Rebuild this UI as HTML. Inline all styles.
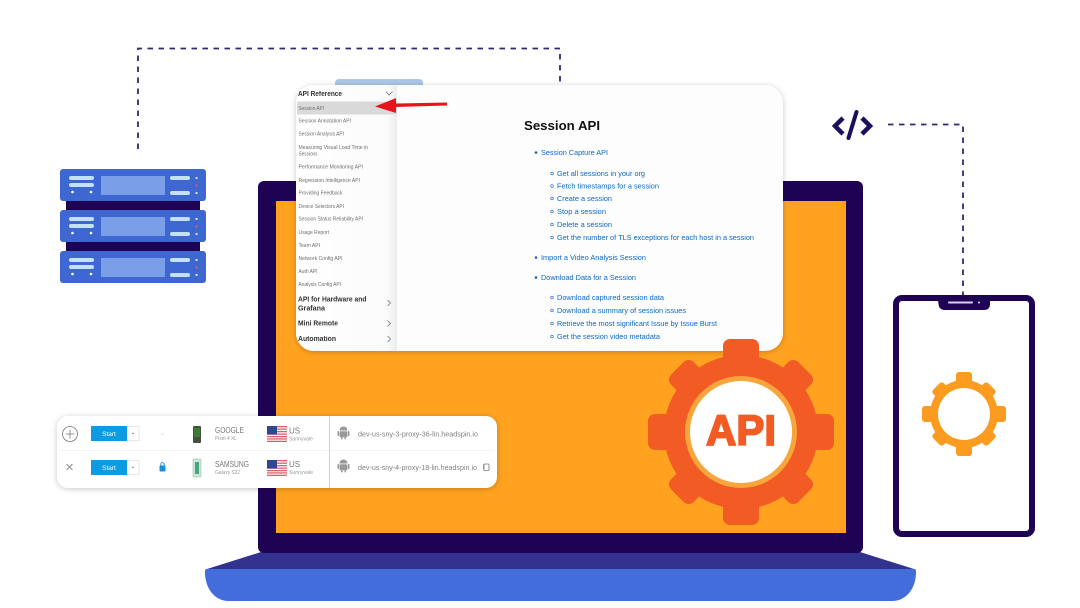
<!DOCTYPE html>
<html><head><meta charset="utf-8"><style>
html,body{margin:0;padding:0;background:#fff;width:1080px;height:608px;overflow:hidden}
svg{display:block}
text{font-family:"Liberation Sans",sans-serif}
.s{font-size:5.2px;fill:#6e6e6e;filter:blur(.25px)}
.h{font-size:7px;font-weight:bold;fill:#333;filter:blur(.2px)}
.l{font-size:7.5px;fill:#0a68c8;filter:blur(.2px)}
.d{filter:blur(.25px)}
</style></head><body>
<svg width="1080" height="608" viewBox="0 0 1080 608" xmlns="http://www.w3.org/2000/svg">
<defs>
<filter id="sh" x="-10%" y="-15%" width="120%" height="130%"><feDropShadow dx="0" dy="1" stdDeviation="3" flood-color="#000" flood-opacity=".22"/></filter>
<linearGradient id="sd" x1="0" x2="1" y1="0" y2="0"><stop offset="0" stop-color="#fff"/><stop offset=".9" stop-color="#fbfbfb"/><stop offset="1" stop-color="#ececec"/></linearGradient>
<g id="srv">
<rect x="60" y="0" width="146" height="32" rx="3" fill="#3f67d2"/>
<rect x="69" y="7" width="25" height="4" rx="2" fill="#c3e2f6"/>
<rect x="69" y="14" width="25" height="4" rx="2" fill="#c3e2f6"/>
<circle cx="72.500" cy="23" r="1.300" fill="#fff"/><circle cx="91" cy="23" r="1.300" fill="#fff"/>
<rect x="101" y="7" width="64" height="19" fill="#7b9ee9"/>
<rect x="170" y="7" width="20" height="4" rx="2" fill="#c3e2f6"/>
<rect x="170" y="22" width="20" height="4" rx="2" fill="#c3e2f6"/>
<circle cx="196.500" cy="9" r="1.100" fill="#d8ecfa"/><circle cx="196.500" cy="16.500" r="1.200" fill="#c0607a"/><circle cx="196.500" cy="24" r="1.100" fill="#d8ecfa"/>
</g>
<g id="flag">
<rect width="20" height="16" fill="#fff"/>
<g fill="#d9606a"><rect y="0" width="20" height="1.300"/><rect y="2.500" width="20" height="1.300"/><rect y="5" width="20" height="1.300"/><rect y="7.500" width="20" height="1.300"/><rect y="10" width="20" height="1.300"/><rect y="12.300" width="20" height="1.300"/><rect y="14.700" width="20" height="1.300"/></g>
<rect width="10" height="8.500" fill="#33478f"/>
</g>
<g id="andr" fill="#9a9a9a">
<path d="M-4 -1.500a4 4 0 0 1 8 0z"/>
<rect x="-4" y="-0.800" width="8" height="6" rx="1"/>
<rect x="-6" y="-1" width="1.500" height="5" rx=".7"/><rect x="4.500" y="-1" width="1.500" height="5" rx=".7"/>
<rect x="-2.500" y="4.500" width="1.500" height="3" rx=".7"/><rect x="1" y="4.500" width="1.500" height="3" rx=".7"/>
</g>
</defs>

<!-- connectors -->
<polyline points="138,149 138,48.500 560,48.500 560,82" fill="none" stroke="#2f2a70" stroke-width="1.800" stroke-dasharray="5.500 5.500"/>
<polyline points="888,124.500 963,124.500 963,295" fill="none" stroke="#2f2a70" stroke-width="1.800" stroke-dasharray="5.500 5.500"/>

<!-- code icon -->
<g fill="none" stroke="#1e0f5c" stroke-width="4.500">
<polyline points="843,118 835,126 843,134"/>
<polyline points="862,118 870,126 862,134"/>
<line x1="856.500" y1="112" x2="848.500" y2="138" stroke-linecap="round" stroke-width="4"/>
</g>

<!-- servers -->
<rect x="66" y="201" width="134" height="9" fill="#1e0355"/>
<rect x="66" y="242" width="134" height="9" fill="#1e0355"/>
<use href="#srv" y="169"/><use href="#srv" y="210"/><use href="#srv" y="251"/>

<!-- laptop -->
<polygon points="261,552 860,552 914,569 207,569" fill="#33338f"/>
<path d="M205 571Q205 569 207 569H914Q916 569 916 571C916.500 586 908 601 892 601H229C213 601 204.500 586 205 571Z" fill="#426ddb"/>
<rect x="258" y="181" width="605" height="372" rx="6" fill="#1e0355"/>
<rect x="276" y="201" width="570" height="332" fill="#ffa21f"/>

<!-- API doc card -->
<rect x="335" y="79" width="88" height="10" rx="4" fill="#abc6e8"/>
<rect x="296" y="85" width="487" height="266" rx="18" fill="#fdfdfd" filter="url(#sh)"/>
<path d="M314 85H397V351H314A18 18 0 0 1 296 333V103A18 18 0 0 1 314 85Z" fill="url(#sd)"/>
<rect x="297" y="101.500" width="100" height="13" fill="#d9d9d9"/>

<text class="h" x="298" y="96" textLength="44" lengthAdjust="spacingAndGlyphs">API Reference</text>
<polyline points="386,91.500 389,95 392.500,91.500" fill="none" stroke="#777" stroke-width=".8"/>
<text class="s" x="298.500" y="110" textLength="25.500" lengthAdjust="spacingAndGlyphs">Session API</text>
<text class="s" x="298.500" y="122.500" textLength="52.500" lengthAdjust="spacingAndGlyphs">Session Annotation API</text>
<text class="s" x="298.500" y="135.500" textLength="45.500" lengthAdjust="spacingAndGlyphs">Session Analysis API</text>
<text class="s" x="298.500" y="149" textLength="69.500" lengthAdjust="spacingAndGlyphs">Measuring Visual Load Time in</text>
<text class="s" x="298.500" y="155.500" textLength="19" lengthAdjust="spacingAndGlyphs">Sessions</text>
<text class="s" x="298.500" y="168.500" textLength="64.500" lengthAdjust="spacingAndGlyphs">Performance Monitoring API</text>
<text class="s" x="298.500" y="182" textLength="61.500" lengthAdjust="spacingAndGlyphs">Regression Intelligence API</text>
<text class="s" x="298.500" y="194.500" textLength="44" lengthAdjust="spacingAndGlyphs">Providing Feedback</text>
<text class="s" x="298.500" y="208" textLength="45.500" lengthAdjust="spacingAndGlyphs">Device Selectors API</text>
<text class="s" x="298.500" y="220.500" textLength="64.500" lengthAdjust="spacingAndGlyphs">Session Status Reliability API</text>
<text class="s" x="298.500" y="234" textLength="30.500" lengthAdjust="spacingAndGlyphs">Usage Report</text>
<text class="s" x="298.500" y="247" textLength="21.500" lengthAdjust="spacingAndGlyphs">Team API</text>
<text class="s" x="298.500" y="260" textLength="44" lengthAdjust="spacingAndGlyphs">Network Config API</text>
<text class="s" x="298.500" y="273" textLength="19" lengthAdjust="spacingAndGlyphs">Auth API</text>
<text class="s" x="298.500" y="286" textLength="42.500" lengthAdjust="spacingAndGlyphs">Analysis Config API</text>
<text class="h" x="298" y="301.500" textLength="68.500" lengthAdjust="spacingAndGlyphs">API for Hardware and</text>
<text class="h" x="298" y="310.500" textLength="27" lengthAdjust="spacingAndGlyphs">Grafana</text>
<text class="h" x="298" y="325.500" textLength="40" lengthAdjust="spacingAndGlyphs">Mini Remote</text>
<text class="h" x="298" y="341" textLength="38" lengthAdjust="spacingAndGlyphs">Automation</text>
<g fill="none" stroke="#777" stroke-width=".8">
<polyline points="387.500,300 390.500,303 387.500,306"/>
<polyline points="387.500,320.500 390.500,323.500 387.500,326.500"/>
<polyline points="387.500,336 390.500,339 387.500,342"/>
</g>

<!-- red arrow -->
<polygon points="447,102.500 396,103.500 396,98 375,106.500 396,113 396,107 447,105.500" fill="#e8141c"/>

<text x="524" y="130" font-size="13" font-weight="bold" fill="#111" textLength="76" lengthAdjust="spacingAndGlyphs">Session API</text>
<g fill="#1a5fb0">
<circle cx="536" cy="152.500" r="1.300"/><circle cx="536" cy="257.500" r="1.300"/><circle cx="536" cy="277.500" r="1.300"/>
</g>
<g fill="none" stroke="#1a5fb0" stroke-width=".6">
<circle cx="552" cy="173.500" r="1.300"/><circle cx="552" cy="186" r="1.300"/><circle cx="552" cy="198.500" r="1.300"/><circle cx="552" cy="211.500" r="1.300"/><circle cx="552" cy="224.500" r="1.300"/><circle cx="552" cy="237.500" r="1.300"/>
<circle cx="552" cy="297.500" r="1.300"/><circle cx="552" cy="310.500" r="1.300"/><circle cx="552" cy="323.500" r="1.300"/><circle cx="552" cy="336.500" r="1.300"/>
</g>
<text class="l" x="541" y="155" textLength="67" lengthAdjust="spacingAndGlyphs">Session Capture API</text>
<text class="l" x="557" y="176" textLength="88" lengthAdjust="spacingAndGlyphs">Get all sessions in your org</text>
<text class="l" x="557" y="188.500" textLength="102" lengthAdjust="spacingAndGlyphs">Fetch timestamps for a session</text>
<text class="l" x="557" y="201" textLength="55" lengthAdjust="spacingAndGlyphs">Create a session</text>
<text class="l" x="557" y="214" textLength="49" lengthAdjust="spacingAndGlyphs">Stop a session</text>
<text class="l" x="557" y="227" textLength="55" lengthAdjust="spacingAndGlyphs">Delete a session</text>
<text class="l" x="557" y="240" textLength="197" lengthAdjust="spacingAndGlyphs">Get the number of TLS exceptions for each host in a session</text>
<text class="l" x="541" y="260" textLength="105" lengthAdjust="spacingAndGlyphs">Import a Video Analysis Session</text>
<text class="l" x="541" y="280" textLength="95" lengthAdjust="spacingAndGlyphs">Download Data for a Session</text>
<text class="l" x="557" y="300" textLength="107" lengthAdjust="spacingAndGlyphs">Download captured session data</text>
<text class="l" x="557" y="313" textLength="129" lengthAdjust="spacingAndGlyphs">Download a summary of session issues</text>
<text class="l" x="557" y="326" textLength="160" lengthAdjust="spacingAndGlyphs">Retrieve the most significant Issue by Issue Burst</text>
<text class="l" x="557" y="339" textLength="103" lengthAdjust="spacingAndGlyphs">Get the session video metadata</text>

<!-- API gear -->
<g transform="translate(741,432)" fill="#f25c24">
<circle r="77"/>
<rect x="-18" y="-93" width="36" height="186" rx="7"/>
<rect x="-16" y="-90" width="32" height="180" rx="7" transform="rotate(45)"/>
<rect x="-18" y="-93" width="36" height="186" rx="7" transform="rotate(90)"/>
<rect x="-16" y="-90" width="32" height="180" rx="7" transform="rotate(135)"/>
<circle r="56" fill="#f8a63c"/>
<circle r="51" fill="#fff"/>
<text x="-35" y="13" font-size="43" font-weight="bold" fill="#f25c24" stroke="#f25c24" stroke-width="1.800" textLength="70" lengthAdjust="spacingAndGlyphs">API</text>
</g>

<!-- phone -->
<rect x="896" y="298" width="136" height="236" rx="6" fill="#fff" stroke="#1e0355" stroke-width="6"/>
<path d="M938 300H990V304Q990 310 984 310H945Q939 310 938.500 304Z" fill="#1e0355"/>
<rect x="948" y="301.500" width="25" height="2" rx="1" fill="#d9cff2"/>
<circle cx="979" cy="302.500" r="1" fill="#e6e0f5"/>
<g transform="translate(964,414)" fill="#fb9b1f">
<circle r="34"/>
<rect x="-8" y="-42" width="16" height="84" rx="3"/>
<rect x="-7.500" y="-39" width="15" height="78" rx="3" transform="rotate(45)"/>
<rect x="-8" y="-42" width="16" height="84" rx="3" transform="rotate(90)"/>
<rect x="-7.500" y="-39" width="15" height="78" rx="3" transform="rotate(135)"/>
<circle r="26" fill="#fff"/>
</g>

<!-- device table -->
<rect x="57" y="416" width="440" height="72" rx="11" fill="#fff" filter="url(#sh)"/>
<line x1="60" y1="450.500" x2="494" y2="450.500" stroke="#f0f0f0" stroke-width=".8"/>
<line x1="329.500" y1="416" x2="329.500" y2="488" stroke="#c9c9c9" stroke-width=".8"/>
<circle cx="70" cy="434" r="7.500" fill="none" stroke="#777" stroke-width=".8"/>
<path d="M70 429.500V438.500M65.500 434H74.500" stroke="#777" stroke-width=".8"/>
<path d="M66.500 464L72.500 470M72.500 464L66.500 470" stroke="#888" stroke-width=".9"/>
<g>
<rect x="127" y="426.500" width="12" height="14" fill="#fff" stroke="#d8d8d8" stroke-width=".6"/>
<rect x="91" y="426" width="36" height="15" fill="#0e9be0"/>
<text class="d" x="109" y="436" font-size="6.500" fill="#fff" text-anchor="middle">Start</text>
<circle cx="133" cy="433.500" r=".7" fill="#666"/>
<rect x="127" y="460.500" width="12" height="14" fill="#fff" stroke="#d8d8d8" stroke-width=".6"/>
<rect x="91" y="460" width="36" height="15" fill="#0e9be0"/>
<text class="d" x="109" y="470" font-size="6.500" fill="#fff" text-anchor="middle">Start</text>
<circle cx="133" cy="467.500" r=".7" fill="#666"/>
</g>
<rect x="161.500" y="433.800" width="2" height=".7" fill="#bbb"/>
<rect x="159.500" y="465.500" width="6" height="6" rx="1" fill="#1b8fd8"/>
<path d="M160.800 466V464.300a1.700 1.700 0 0 1 3.400 0V466" fill="none" stroke="#1b8fd8" stroke-width=".9"/>
<rect x="193" y="426" width="8" height="17" rx="1" fill="#44513a"/>
<rect x="194" y="428" width="6" height="9" fill="#3f7a3a"/>
<rect x="193" y="459" width="8" height="18" rx="1" fill="#c9e6d8" stroke="#8fb8a5" stroke-width=".5"/>
<rect x="195" y="462" width="4" height="12" fill="#49a57d"/>
<text class="d" x="215" y="433" font-size="8" fill="#777" textLength="29" lengthAdjust="spacingAndGlyphs">GOOGLE</text>
<text class="d" x="215" y="440" font-size="5" fill="#999" textLength="22" lengthAdjust="spacingAndGlyphs">Pixel 4 XL</text>
<text class="d" x="215" y="467" font-size="8" fill="#777" textLength="34" lengthAdjust="spacingAndGlyphs">SAMSUNG</text>
<text class="d" x="215" y="474" font-size="5" fill="#999" textLength="25" lengthAdjust="spacingAndGlyphs">Galaxy S22</text>
<use href="#flag" x="267" y="426"/><use href="#flag" x="267" y="460"/>
<text class="d" x="289" y="433.500" font-size="8" fill="#777">US</text>
<text class="d" x="289" y="440.500" font-size="5" fill="#999" textLength="24" lengthAdjust="spacingAndGlyphs">Sunnyvale</text>
<text class="d" x="289" y="467" font-size="8" fill="#777">US</text>
<text class="d" x="289" y="474" font-size="5" fill="#999" textLength="24" lengthAdjust="spacingAndGlyphs">Sunnyvale</text>
<use href="#andr" x="343.500" y="432"/><use href="#andr" x="343.500" y="465"/>
<text class="d" x="358" y="436.500" font-size="7.500" fill="#808080" textLength="120" lengthAdjust="spacingAndGlyphs">dev-us-sny-3-proxy-36-lin.headspin.io</text>
<text class="d" x="358" y="470" font-size="7.500" fill="#808080" textLength="119" lengthAdjust="spacingAndGlyphs">dev-us-sny-4-proxy-18-lin.headspin.io</text>
<rect x="484" y="464" width="5" height="6.500" rx=".8" fill="none" stroke="#777" stroke-width=".8"/>
<path d="M484 464.500h-.5v5" fill="none" stroke="#777" stroke-width=".6"/>
</svg>
</body></html>
